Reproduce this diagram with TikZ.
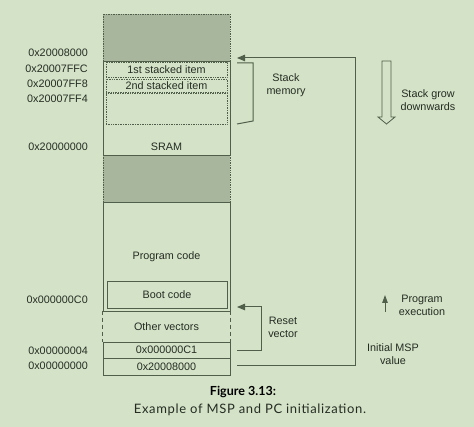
\documentclass[tikz,border=0pt]{standalone}
\usepackage{fontspec}
\setmainfont{Liberation Sans}
\newfontfamily\capfont{Lato}
\newfontfamily\capfontsp[LetterSpace=5.0]{Lato}
\usetikzlibrary{arrows.meta}
\definecolor{bg}{HTML}{D4E2C7}
\definecolor{blk}{HTML}{A9B69E}
\definecolor{ln}{HTML}{4F5F4A}
\definecolor{tx}{HTML}{252D23}
\tikzset{
  lbl/.style={font=\fontsize{10.8}{13}\selectfont, text=tx, inner sep=0pt, align=center},
  addr/.style={lbl, anchor=east},
  cell/.style={draw=ln, line width=0.9pt, inner sep=0pt, font=\fontsize{10.8}{13}\selectfont, text=tx},
  dcell/.style={draw=ln, line width=0.7pt, densely dotted, inner sep=0pt, font=\fontsize{10.8}{13}\selectfont, text=tx},
  gblk/.style={fill=blk, draw=ln, line width=0.7pt, densely dotted, inner sep=0pt},
  conn/.style={draw=ln, line width=1pt},
  arr/.style={conn, -{Triangle[length=8pt,width=6.5pt]}},
}
\begin{document}
\begin{tikzpicture}[x=1pt,y=-1pt]
\fill[bg] (0,0) rectangle (474,427);
\useasboundingbox (0,0) rectangle (474,427);

% memory column
\node[gblk, minimum width=127pt, minimum height=47pt] (gtop) at (166.5,37.5) {};
\node[gblk, minimum width=127pt, minimum height=47pt] (gmid) at (166.5,178.5) {};
\node[cell, minimum width=127pt, minimum height=94pt] (sram) at (166.5,108) {};
\node[dcell, minimum width=121pt, minimum height=15pt] (it1) at (166.5,70) {1st stacked item};
\node[dcell, minimum width=121pt, minimum height=13pt] (it2) at (166.5,85.5) {2nd stacked item};
\node[dcell, minimum width=121pt, minimum height=31pt] (it3) at (166.5,108.5) {};
\node[lbl] (sramt) at (166.5,147) {SRAM};
\node[cell, minimum width=127pt, minimum height=109pt] (prog) at (166.5,256.5) {};
\node[lbl] (progt) at (166.5,257) {Program code};
\node[cell, minimum width=120pt, minimum height=27pt] (boot) at (167,294.5) {Boot code};
\node[inner sep=0pt, minimum width=127pt, minimum height=31pt, font=\fontsize{10.8}{13}\selectfont, text=tx] (oth) at (166.5,326.5) {Other vectors};
\draw[ln, line width=0.8pt, dashed, dash pattern=on 4pt off 3pt] (oth.north west) -- (oth.south west) (oth.north east) -- (oth.south east);
\node[cell, minimum width=127pt, minimum height=16pt] (rv) at (166.5,350) {0x000000C1};
\node[cell, minimum width=127pt, minimum height=17pt] (msp) at (166.5,366.5) {0x20008000};

% addresses
\node[addr] (a1) at (88,53) {0x20008000};
\node[addr] (a2) at (88,69) {0x20007FFC};
\node[addr] (a3) at (88,84) {0x20007FF8};
\node[addr] (a4) at (88,99) {0x20007FF4};
\node[addr] (a5) at (88,147) {0x20000000};
\node[addr] (a6) at (88,300) {0x000000C0};
\node[addr] (a7) at (88,351) {0x00000004};
\node[addr] (a8) at (88,366) {0x00000000};

% initial MSP connector
\coordinate (mspend) at (237,366);
\coordinate (c1) at (355,366);
\coordinate (c2) at (355,58);
\coordinate (sptop) at (237,58);
\draw[arr] (mspend) -- (c1) -- (c2) -- (sptop);
\node[lbl] (imsp) at (393,354) {Initial MSP\\value};

% stack memory bracket
\coordinate (b1) at (237,63);
\coordinate (b2) at (253,63);
\coordinate (b3) at (253,121);
\coordinate (b4) at (237,124);
\draw[conn] (b1) -- (b2) -- (b3) -- (b4);
\node[lbl] (smem) at (286,85) {Stack\\memory};

% reset vector
\coordinate (r1) at (237,351);
\coordinate (r2) at (261,351);
\coordinate (r3) at (261,307);
\coordinate (r4) at (237,307);
\draw[arr] (r1) -- (r2) -- (r3) -- (r4);
\node[lbl] (rvec) at (283,327.5) {Reset\\vector};

% stack grow arrow (hollow)
\draw[ln, line width=0.8pt, fill=bg] (382,61) -- (391,61) -- (391,117) -- (395,117) -- (386.5,124) -- (378,117) -- (382,117) -- cycle;
\node[lbl] (sgrow) at (428,100) {Stack grow\\downwards};

% program execution arrow
\coordinate (pe1) at (385,312);
\coordinate (pe2) at (385,295);
\draw[arr, -{Triangle[length=8pt,width=5.5pt]}] (pe1) -- (pe2);
\node[lbl] (pexec) at (422,305.5) {Program\\execution};

% caption
\node[font=\capfont\bfseries\fontsize{12.5}{14}\selectfont, text=black, inner sep=0pt] (fig) at (243,392) {Figure 3.13:};
\node[font=\capfontsp\fontsize{13}{15}\selectfont, text=tx, inner sep=0pt] (capt) at (250,410) {Example of MSP and PC initialization.};
\end{tikzpicture}
\end{document}
